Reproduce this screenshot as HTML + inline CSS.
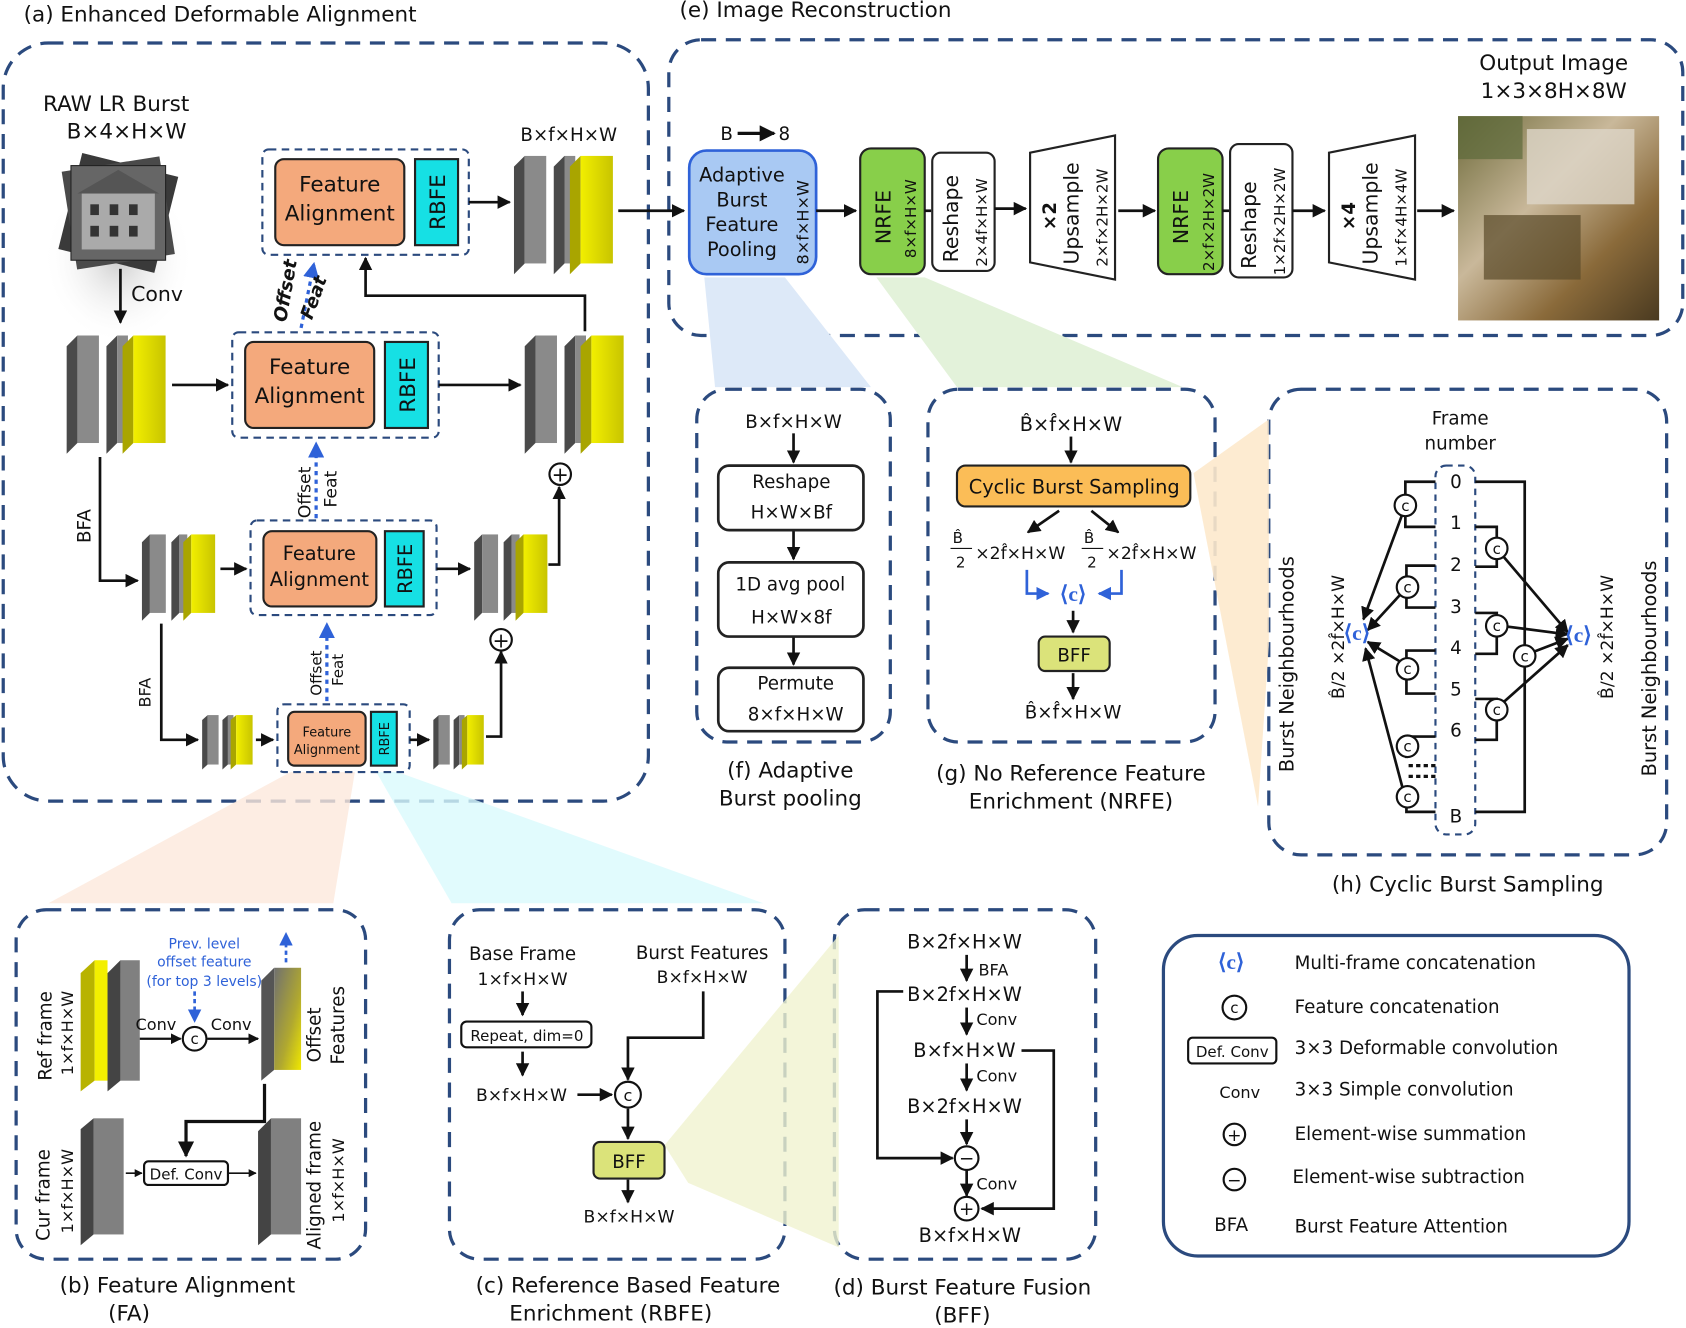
<!DOCTYPE html>
<html><head><meta charset="utf-8"><style>
html,body{margin:0;padding:0;background:#fff}
svg{display:block}
text{font-family:"DejaVu Sans","Liberation Sans",sans-serif;fill:#111}
</style></head><body>
<svg width="1686" height="1328" viewBox="0 0 1568 1235" preserveAspectRatio="none" xmlns="http://www.w3.org/2000/svg">
<defs>
<marker id="ar" viewBox="0 0 10 10" refX="9" refY="5" markerWidth="5" markerHeight="5" orient="auto"><path d="M0,0 L10,5 L0,10 z" fill="#111"/></marker>
<marker id="ab" viewBox="0 0 10 10" refX="9" refY="5" markerWidth="5" markerHeight="5" orient="auto"><path d="M0,0 L10,5 L0,10 z" fill="#2f62d8"/></marker>
<linearGradient id="yg" x1="0" x2="1"><stop offset="0" stop-color="#f2ef00"/><stop offset="1" stop-color="#c8c400"/></linearGradient>
<linearGradient id="og" x1="0" y1="0" x2="1" y2="1"><stop offset="0" stop-color="#707070"/><stop offset="0.6" stop-color="#b0a830"/><stop offset="1" stop-color="#f0e800"/></linearGradient>
<linearGradient id="photo" x1="0" y1="0" x2="1" y2="1"><stop offset="0" stop-color="#6d6a3a"/><stop offset="0.4" stop-color="#c9b89a"/><stop offset="0.7" stop-color="#8a6a3a"/><stop offset="1" stop-color="#4a3a20"/></linearGradient>
<radialGradient id="fog"><stop offset="0" stop-color="#ccc"/><stop offset="1" stop-color="#fff" stop-opacity="0"/></radialGradient>
<g id="stack">
 <polygon points="0,10 10,0 10,100 0,110" fill="#4a4a4a"/><rect x="10" y="0" width="20" height="100" fill="#8a8a8a"/>
 <polygon points="37,10 47,0 47,100 37,110" fill="#4a4a4a"/><rect x="47" y="0" width="10" height="100" fill="#8a8a8a"/>
 <polygon points="52,10 62,0 62,100 52,110" fill="#a9a500"/><rect x="62" y="0" width="30" height="100" fill="url(#yg)"/>
</g>
</defs>

<text x="22" y="20" font-size="20">(a) Enhanced Deformable Alignment</text>
<text x="632" y="16" font-size="20">(e) Image Reconstruction</text>

<g fill="none" stroke="#2b4a7e" stroke-width="3" stroke-dasharray="14,9">
<rect x="3" y="40" width="600" height="705" rx="42"/>
<rect x="622" y="37" width="943" height="275" rx="30"/>
<rect x="648" y="362" width="180" height="328" rx="28"/>
<rect x="863" y="362" width="267" height="328" rx="28"/>
<rect x="1180" y="362" width="370" height="433" rx="30"/>
<rect x="15" y="846" width="325" height="325" rx="28"/>
<rect x="418" y="846" width="312" height="325" rx="28"/>
<rect x="776" y="846" width="243" height="325" rx="28"/>
</g>
<rect x="1082" y="870" width="433" height="298" rx="32" fill="none" stroke="#2b4a7e" stroke-width="3"/>

<polygon points="270,718 330,718 310,840 45,840" fill="#fde8dc" opacity="0.8"/>
<polygon points="350,718 370,718 710,840 420,840" fill="#dafafd" opacity="0.8"/>
<polygon points="780,870 618,1065 640,1100 780,1160" fill="#f0f3d0" opacity="0.8"/>
<polygon points="655,258 730,258 810,360 665,360" fill="#dde9f8"/>
<polygon points="815,258 860,258 1100,360 890,360" fill="#e3f2da"/>
<polygon points="1110,440 1180,390 1180,600 1170,750" fill="#fde9cc" opacity="0.9"/>

<!-- Panel (a) -->
<text x="40" y="103" font-size="20">RAW LR Burst</text>
<text x="62" y="129" font-size="20">B×4×H×W</text>
<ellipse cx="110" cy="240" rx="70" ry="80" fill="url(#fog)"/>
<g transform="translate(110,198)">
<rect x="-46" y="-46" width="92" height="92" fill="#3a3a3a" transform="rotate(14)"/>
<rect x="-46" y="-46" width="92" height="92" fill="#4a4a4a" transform="rotate(-9)"/>
<rect x="-44" y="-44" width="88" height="88" fill="#666" stroke="#222"/>
<rect x="-34" y="-18" width="68" height="52" fill="#aaa"/>
<polygon points="-38,-18 0,-40 38,-18" fill="#555"/>
<rect x="-26" y="-8" width="8" height="10" fill="#333"/><rect x="-8" y="-8" width="8" height="10" fill="#333"/><rect x="10" y="-8" width="8" height="10" fill="#333"/>
<rect x="-26" y="12" width="8" height="10" fill="#333"/><rect x="-8" y="12" width="8" height="10" fill="#333"/><rect x="10" y="12" width="8" height="10" fill="#333"/>
</g>
<line x1="112" y1="250" x2="112" y2="300" stroke="#111" stroke-width="2.5" marker-end="url(#ar)"/>
<text x="122" y="280" font-size="19">Conv</text>

<use href="#stack" transform="translate(478,145)"/>
<use href="#stack" transform="translate(62,312)"/>
<use href="#stack" transform="translate(488,312)"/>
<use href="#stack" transform="translate(132,497) scale(0.74,0.73)"/>
<use href="#stack" transform="translate(441,497) scale(0.74,0.73)"/>
<use href="#stack" transform="translate(188,665) scale(0.51,0.46)"/>
<use href="#stack" transform="translate(403,665) scale(0.51,0.46)"/>
<text x="484" y="131" font-size="17">B×f×H×W</text>

<g fill="none" stroke="#2b4a7e" stroke-width="2" stroke-dasharray="7,5">
<rect x="244" y="139" width="192" height="98" rx="6"/>
<rect x="216" y="309" width="192" height="98" rx="6"/>
<rect x="233" y="484" width="173" height="88" rx="6"/>
<rect x="258" y="655" width="123" height="63" rx="6"/>
</g>
<g stroke="#222" stroke-width="2">
<rect x="256" y="148" width="120" height="80" rx="8" fill="#f4a97c"/>
<rect x="386" y="148" width="40" height="80" fill="#16e0e4"/>
<rect x="228" y="318" width="120" height="80" rx="8" fill="#f4a97c"/>
<rect x="358" y="318" width="40" height="80" fill="#16e0e4"/>
<rect x="245" y="494" width="105" height="70" rx="8" fill="#f4a97c"/>
<rect x="358" y="494" width="36" height="70" fill="#16e0e4"/>
<rect x="268" y="662" width="72" height="50" rx="6" fill="#f4a97c"/>
<rect x="345" y="662" width="24" height="50" fill="#16e0e4"/>
</g>
<g font-size="20" text-anchor="middle">
<text x="316" y="178">Feature</text><text x="316" y="205">Alignment</text>
<text x="288" y="348">Feature</text><text x="288" y="375">Alignment</text>
<text x="297" y="521" font-size="18">Feature</text><text x="297" y="545" font-size="18">Alignment</text>
<text x="304" y="685" font-size="12">Feature</text><text x="304" y="701" font-size="12">Alignment</text>
</g>
<text transform="translate(414,188) rotate(-90)" font-size="20" text-anchor="middle">RBFE</text>
<text transform="translate(386,358) rotate(-90)" font-size="20" text-anchor="middle">RBFE</text>
<text transform="translate(383,529) rotate(-90)" font-size="18" text-anchor="middle">RBFE</text>
<text transform="translate(362,687) rotate(-90)" font-size="12" text-anchor="middle">RBFE</text>

<g stroke="#111" stroke-width="2.5" fill="none">
<line x1="436" y1="188" x2="474" y2="188" marker-end="url(#ar)"/>
<line x1="160" y1="358" x2="212" y2="358" marker-end="url(#ar)"/>
<line x1="408" y1="358" x2="484" y2="358" marker-end="url(#ar)"/>
<polyline points="544,308 544,275 340,275 340,240" marker-end="url(#ar)"/>
<line x1="205" y1="529" x2="229" y2="529" marker-end="url(#ar)"/>
<line x1="406" y1="529" x2="437" y2="529" marker-end="url(#ar)"/>
<polyline points="510,525 520,525 520,453" marker-end="url(#ar)"/>
<polyline points="93,425 93,540 128,540" marker-end="url(#ar)"/>
<polyline points="150,580 150,688 184,688" marker-end="url(#ar)"/>
<line x1="238" y1="688" x2="254" y2="688" marker-end="url(#ar)"/>
<line x1="381" y1="688" x2="399" y2="688" marker-end="url(#ar)"/>
<polyline points="452,685 466,685 466,606" marker-end="url(#ar)"/>
<line x1="575" y1="196" x2="636" y2="196" marker-end="url(#ar)"/>
</g>
<g fill="#fff" stroke="#111" stroke-width="2"><circle cx="521" cy="441" r="10"/><circle cx="466" cy="595" r="10"/></g>
<g font-size="19" text-anchor="middle"><text x="521" y="448">+</text><text x="466" y="602">+</text></g>
<text transform="translate(84,505) rotate(-90)" font-size="17">BFA</text>
<text transform="translate(140,658) rotate(-90)" font-size="15">BFA</text>
<g stroke="#2f62d8" stroke-width="3" stroke-dasharray="4,4" fill="none">
<line x1="280" y1="305" x2="292" y2="245" marker-end="url(#ab)"/>
<line x1="294" y1="482" x2="294" y2="412" marker-end="url(#ab)"/>
<line x1="304" y1="652" x2="304" y2="580" marker-end="url(#ab)"/>
</g>
<text transform="translate(266,300) rotate(-80)" font-size="17" font-weight="bold" font-style="italic">Offset</text>
<text transform="translate(290,298) rotate(-70)" font-size="17" font-weight="bold" font-style="italic">Feat</text>
<text transform="translate(289,482) rotate(-90)" font-size="16">Offset</text>
<text transform="translate(313,472) rotate(-90)" font-size="16">Feat</text>
<text transform="translate(299,647) rotate(-90)" font-size="14">Offset</text>
<text transform="translate(319,638) rotate(-90)" font-size="14">Feat</text>

<!-- Panel (e) -->
<text x="670" y="130" font-size="17">B</text>
<line x1="686" y1="124" x2="720" y2="124" stroke="#111" stroke-width="3" marker-end="url(#ar)"/>
<text x="724" y="130" font-size="17">8</text>
<rect x="641" y="140" width="118" height="115" rx="16" fill="#a9c9f3" stroke="#2f62d8" stroke-width="2.5"/>
<g font-size="18" text-anchor="middle"><text x="690" y="169">Adaptive</text><text x="690" y="192">Burst</text><text x="690" y="215">Feature</text><text x="690" y="238">Pooling</text></g>
<text transform="translate(752,246) rotate(-90)" font-size="15">8×f×H×W</text>
<line x1="759" y1="196" x2="796" y2="196" stroke="#111" stroke-width="2.5" marker-end="url(#ar)"/>
<rect x="800" y="138" width="60" height="117" rx="10" fill="#88cf4a" stroke="#222" stroke-width="2"/>
<text transform="translate(828,227) rotate(-90)" font-size="19">NRFE</text>
<text transform="translate(852,240) rotate(-90)" font-size="14">8×f×H×W</text>
<line x1="860" y1="196" x2="866" y2="196" stroke="#111" stroke-width="2.5"/>
<rect x="867" y="142" width="58" height="110" rx="8" fill="#fff" stroke="#222" stroke-width="2"/>
<text transform="translate(891,244) rotate(-90)" font-size="19">Reshape</text>
<text transform="translate(918,248) rotate(-90)" font-size="14">2×4f×H×W</text>
<line x1="925" y1="194" x2="954" y2="194" stroke="#111" stroke-width="2.5" marker-end="url(#ar)"/>
<polygon points="958,142 1037,126 1037,260 958,244" fill="#fff" stroke="#222" stroke-width="2"/>
<text transform="translate(982,214) rotate(-90)" font-size="17" font-weight="bold">×2</text>
<text transform="translate(1003,246) rotate(-90)" font-size="19">Upsample</text>
<text transform="translate(1030,248) rotate(-90)" font-size="14">2×f×2H×2W</text>
<line x1="1040" y1="196" x2="1074" y2="196" stroke="#111" stroke-width="2.5" marker-end="url(#ar)"/>
<rect x="1077" y="138" width="60" height="117" rx="10" fill="#88cf4a" stroke="#222" stroke-width="2"/>
<text transform="translate(1105,227) rotate(-90)" font-size="19">NRFE</text>
<text transform="translate(1129,252) rotate(-90)" font-size="14">2×f×2H×2W</text>
<line x1="1137" y1="196" x2="1143" y2="196" stroke="#111" stroke-width="2.5"/>
<rect x="1144" y="134" width="58" height="124" rx="8" fill="#fff" stroke="#222" stroke-width="2"/>
<text transform="translate(1168,250) rotate(-90)" font-size="19">Reshape</text>
<text transform="translate(1195,256) rotate(-90)" font-size="14">1×2f×2H×2W</text>
<line x1="1202" y1="196" x2="1232" y2="196" stroke="#111" stroke-width="2.5" marker-end="url(#ar)"/>
<polygon points="1236,142 1316,126 1316,260 1236,244" fill="#fff" stroke="#222" stroke-width="2"/>
<text transform="translate(1260,214) rotate(-90)" font-size="17" font-weight="bold">×4</text>
<text transform="translate(1281,246) rotate(-90)" font-size="19">Upsample</text>
<text transform="translate(1308,248) rotate(-90)" font-size="14">1×f×4H×4W</text>
<line x1="1318" y1="196" x2="1352" y2="196" stroke="#111" stroke-width="2.5" marker-end="url(#ar)"/>
<text x="1445" y="65" font-size="20" text-anchor="middle">Output Image</text>
<text x="1445" y="91" font-size="20" text-anchor="middle">1×3×8H×8W</text>
<rect x="1356" y="108" width="187" height="190" fill="url(#photo)"/>
<rect x="1420" y="120" width="100" height="70" fill="#ddd6c8" opacity="0.8"/>
<rect x="1380" y="200" width="90" height="60" fill="#5a4a2a" opacity="0.7"/>
<rect x="1356" y="108" width="60" height="40" fill="#5c6a3a" opacity="0.7"/>

<!-- (f) -->
<text x="738" y="398" font-size="17" text-anchor="middle">B×f×H×W</text>
<g stroke="#111" stroke-width="2.5" fill="none">
<line x1="738" y1="403" x2="738" y2="430" marker-end="url(#ar)"/>
<line x1="738" y1="493" x2="738" y2="520" marker-end="url(#ar)"/>
<line x1="738" y1="592" x2="738" y2="618" marker-end="url(#ar)"/>
</g>
<g fill="#fff" stroke="#222" stroke-width="2.5">
<rect x="668" y="433" width="135" height="60" rx="10"/>
<rect x="668" y="523" width="135" height="69" rx="10"/>
<rect x="668" y="621" width="135" height="59" rx="10"/>
</g>
<g font-size="17" text-anchor="middle">
<text x="736" y="454">Reshape</text><text x="736" y="482">H×W×Bf</text>
<text x="735" y="549">1D avg pool</text><text x="736" y="580">H×W×8f</text>
<text x="740" y="641">Permute</text><text x="740" y="670">8×f×H×W</text>
</g>
<text x="735" y="723" font-size="20" text-anchor="middle">(f) Adaptive</text>
<text x="735" y="749" font-size="20" text-anchor="middle">Burst pooling</text>

<!-- (g) -->
<text x="996" y="401" font-size="18" text-anchor="middle">B̂×f̂×H×W</text>
<line x1="996" y1="406" x2="996" y2="430" stroke="#111" stroke-width="2.5" marker-end="url(#ar)"/>
<rect x="890" y="433" width="217" height="38" rx="8" fill="#fbbd57" stroke="#222" stroke-width="2"/>
<text x="999" y="459" font-size="18" text-anchor="middle">Cyclic Burst Sampling</text>
<g stroke="#111" stroke-width="2.5"><line x1="985" y1="475" x2="956" y2="495" marker-end="url(#ar)"/><line x1="1015" y1="475" x2="1040" y2="495" marker-end="url(#ar)"/></g>
<text x="886" y="505" font-size="14">B̂</text><line x1="884" y1="510" x2="904" y2="510" stroke="#111"/><text x="889" y="528" font-size="14">2</text>
<text x="907" y="520" font-size="16">×2f̂×H×W</text>
<text x="1008" y="505" font-size="14">B̂</text><line x1="1006" y1="510" x2="1026" y2="510" stroke="#111"/><text x="1011" y="528" font-size="14">2</text>
<text x="1029" y="520" font-size="16">×2f̂×H×W</text>
<g stroke="#2f62d8" stroke-width="2.5" fill="none">
<polyline points="955,530 955,552 975,552" marker-end="url(#ab)"/>
<polyline points="1043,530 1043,552 1022,552" marker-end="url(#ab)"/>
</g>
<text x="998" y="559" font-size="20" text-anchor="middle" style="fill:#2f62d8;font-family:'Liberation Serif',serif;font-weight:bold">⟨c⟩</text>
<line x1="998" y1="568" x2="998" y2="588" stroke="#111" stroke-width="2.5" marker-end="url(#ar)"/>
<rect x="966" y="592" width="66" height="32" rx="6" fill="#dbe37a" stroke="#222" stroke-width="2"/>
<text x="999" y="615" font-size="17" text-anchor="middle">BFF</text>
<line x1="998" y1="626" x2="998" y2="650" stroke="#111" stroke-width="2.5" marker-end="url(#ar)"/>
<text x="998" y="668" font-size="17" text-anchor="middle">B̂×f̂×H×W</text>
<text x="996" y="726" font-size="20" text-anchor="middle">(g) No Reference Feature</text>
<text x="996" y="752" font-size="20" text-anchor="middle">Enrichment (NRFE)</text>

<!-- (h) -->
<text x="1358" y="395" font-size="17" text-anchor="middle">Frame</text>
<text x="1358" y="418" font-size="17" text-anchor="middle">number</text>
<rect x="1335" y="433" width="37" height="343" rx="10" fill="none" stroke="#2b4a7e" stroke-width="2" stroke-dasharray="6,5"/>
<g font-size="17" text-anchor="middle">
<text x="1354" y="454">0</text><text x="1354" y="492">1</text><text x="1354" y="531">2</text><text x="1354" y="570">3</text><text x="1354" y="608">4</text><text x="1354" y="647">5</text><text x="1354" y="685">6</text><text x="1354" y="765">B</text>
</g>
<g stroke="#111" stroke-width="2.5" fill="none">
<polyline points="1335,448 1307,448 1307,490 1335,490"/>
<polyline points="1335,526 1308,526 1308,565 1335,565"/>
<polyline points="1335,605 1308,605 1308,645 1335,645"/>
<polyline points="1335,685 1308,685 1308,705"/>
<polyline points="1372,448 1418,448 1418,755 1372,755"/>
<polyline points="1372,490 1392,490 1392,527 1372,527"/>
<polyline points="1372,570 1392,570 1392,608 1372,608"/>
<polyline points="1372,650 1392,650 1392,688 1372,688"/>
<polyline points="1308,740 1308,755 1335,755"/>
<line x1="1305" y1="476" x2="1268" y2="576" marker-end="url(#ar)"/>
<line x1="1305" y1="550" x2="1272" y2="586" marker-end="url(#ar)"/>
<line x1="1305" y1="617" x2="1272" y2="597" marker-end="url(#ar)"/>
<line x1="1305" y1="735" x2="1270" y2="603" marker-end="url(#ar)"/>
<line x1="1396" y1="515" x2="1458" y2="588" marker-end="url(#ar)"/>
<line x1="1396" y1="582" x2="1458" y2="590" marker-end="url(#ar)"/>
<line x1="1424" y1="607" x2="1458" y2="594" marker-end="url(#ar)"/>
<line x1="1396" y1="655" x2="1458" y2="600" marker-end="url(#ar)"/>
</g>
<g stroke="#111" stroke-width="3" stroke-dasharray="4,3"><line x1="1310" y1="712" x2="1335" y2="712"/><line x1="1310" y1="722" x2="1335" y2="722"/></g>
<g fill="#fff" stroke="#111" stroke-width="2">
<circle cx="1307" cy="470" r="10"/><circle cx="1309" cy="546" r="10"/><circle cx="1309" cy="622" r="10"/><circle cx="1309" cy="694" r="10"/><circle cx="1309" cy="741" r="10"/>
<circle cx="1392" cy="510" r="10"/><circle cx="1392" cy="582" r="10"/><circle cx="1418" cy="610" r="10"/><circle cx="1392" cy="660" r="10"/>
</g>
<g font-size="14" text-anchor="middle">
<text x="1307" y="475">c</text><text x="1309" y="551">c</text><text x="1309" y="627">c</text><text x="1309" y="699">c</text><text x="1309" y="746">c</text>
<text x="1392" y="515">c</text><text x="1392" y="587">c</text><text x="1418" y="615">c</text><text x="1392" y="665">c</text>
</g>
<text x="1262" y="595" font-size="20" text-anchor="middle" style="fill:#2f62d8;font-family:'Liberation Serif',serif;font-weight:bold">⟨c⟩</text>
<text x="1468" y="597" font-size="20" text-anchor="middle" style="fill:#2f62d8;font-family:'Liberation Serif',serif;font-weight:bold">⟨c⟩</text>
<text transform="translate(1203,718) rotate(-90)" font-size="18">Burst Neighbourhoods</text>
<text transform="translate(1250,650) rotate(-90)" font-size="16">B̂/2 ×2f̂×H×W</text>
<text transform="translate(1500,650) rotate(-90)" font-size="16">B̂/2 ×2f̂×H×W</text>
<text transform="translate(1540,722) rotate(-90)" font-size="18">Burst Neighbourhoods</text>
<text x="1365" y="829" font-size="20" text-anchor="middle">(h) Cyclic Burst Sampling</text>

<!-- (b) -->
<polygon points="75,905 88,893 88,1005 75,1015" fill="#b8b300"/><rect x="88" y="893" width="12" height="112" fill="#f3ef00"/>
<polygon points="100,905 112,893 112,1005 100,1015" fill="#444"/><rect x="112" y="893" width="18" height="112" fill="#808080"/>
<polygon points="243,912 255,900 255,995 243,1005" fill="#555"/><rect x="255" y="900" width="25" height="95" fill="url(#og)"/>
<polygon points="75,1050 87,1040 87,1148 75,1158" fill="#444"/><rect x="87" y="1040" width="28" height="108" fill="#808080"/>
<polygon points="240,1052 252,1040 252,1148 240,1158" fill="#444"/><rect x="252" y="1040" width="28" height="108" fill="#808080"/>
<text transform="translate(48,1005) rotate(-90)" font-size="17">Ref frame</text>
<text transform="translate(68,1000) rotate(-90)" font-size="15">1×f×H×W</text>
<text transform="translate(46,1154) rotate(-90)" font-size="17">Cur frame</text>
<text transform="translate(68,1147) rotate(-90)" font-size="15">1×f×H×W</text>
<text transform="translate(298,988) rotate(-90)" font-size="17">Offset</text>
<text transform="translate(320,990) rotate(-90)" font-size="17">Features</text>
<text transform="translate(298,1162) rotate(-90)" font-size="17">Aligned frame</text>
<text transform="translate(320,1137) rotate(-90)" font-size="15">1×f×H×W</text>
<text x="190" y="882" font-size="13" text-anchor="middle" style="fill:#2f62d8">Prev. level</text>
<text x="190" y="899" font-size="13" text-anchor="middle" style="fill:#2f62d8">offset feature</text>
<text x="190" y="917" font-size="13" text-anchor="middle" style="fill:#2f62d8">(for top 3 levels)</text>
<g stroke="#2f62d8" stroke-width="2.5" stroke-dasharray="4,3" fill="none">
<line x1="181" y1="922" x2="181" y2="950" marker-end="url(#ab)"/>
<line x1="266" y1="895" x2="266" y2="868" marker-end="url(#ab)"/>
</g>
<g stroke="#111" stroke-width="2" fill="none">
<line x1="130" y1="966" x2="168" y2="966" marker-end="url(#ar)"/>
<line x1="193" y1="966" x2="240" y2="966" marker-end="url(#ar)"/>
<polyline points="246,1008 246,1043 173,1043 173,1075" stroke-width="3" marker-end="url(#ar)"/>
<line x1="117" y1="1091" x2="132" y2="1091" stroke-width="1.5" marker-end="url(#ar)"/>
<line x1="212" y1="1091" x2="238" y2="1091" stroke-width="1.5" marker-end="url(#ar)"/>
</g>
<circle cx="181" cy="966" r="11" fill="#fff" stroke="#111" stroke-width="2"/>
<text x="181" y="971" font-size="14" text-anchor="middle">c</text>
<text x="126" y="958" font-size="15">Conv</text><text x="196" y="958" font-size="15">Conv</text>
<rect x="134" y="1080" width="78" height="22" rx="4" fill="#fff" stroke="#111" stroke-width="2"/>
<text x="173" y="1097" font-size="14" text-anchor="middle">Def. Conv</text>
<text x="165" y="1202" font-size="20" text-anchor="middle">(b) Feature Alignment</text>
<text x="120" y="1228" font-size="20" text-anchor="middle">(FA)</text>

<!-- (c) -->
<text x="486" y="893" font-size="17" text-anchor="middle">Base Frame</text>
<text x="486" y="916" font-size="16" text-anchor="middle">1×f×H×W</text>
<text x="653" y="892" font-size="17" text-anchor="middle">Burst Features</text>
<text x="653" y="914" font-size="16" text-anchor="middle">B×f×H×W</text>
<rect x="429" y="950" width="121" height="24" rx="5" fill="#fff" stroke="#111" stroke-width="2"/>
<text x="490" y="968" font-size="14" text-anchor="middle">Repeat, dim=0</text>
<text x="485" y="1024" font-size="16" text-anchor="middle">B×f×H×W</text>
<g stroke="#111" stroke-width="2.5" fill="none">
<line x1="486" y1="922" x2="486" y2="944" marker-end="url(#ar)"/>
<line x1="486" y1="978" x2="486" y2="1000" marker-end="url(#ar)"/>
<line x1="537" y1="1018" x2="569" y2="1018" marker-end="url(#ar)"/>
<polyline points="654,922 654,965 584,965 584,1004" marker-end="url(#ar)"/>
<line x1="584" y1="1031" x2="584" y2="1059" marker-end="url(#ar)"/>
<line x1="584" y1="1097" x2="584" y2="1118" marker-end="url(#ar)"/>
</g>
<circle cx="584" cy="1018" r="12" fill="#fff" stroke="#111" stroke-width="2"/>
<text x="584" y="1024" font-size="15" text-anchor="middle">c</text>
<rect x="552" y="1062" width="66" height="34" rx="6" fill="#dbe37a" stroke="#222" stroke-width="2"/>
<text x="585" y="1086" font-size="17" text-anchor="middle">BFF</text>
<text x="585" y="1137" font-size="16" text-anchor="middle">B×f×H×W</text>
<text x="584" y="1202" font-size="20" text-anchor="middle">(c) Reference Based Feature</text>
<text x="568" y="1228" font-size="20" text-anchor="middle">Enrichment (RBFE)</text>

<!-- (d) -->
<g font-size="18" text-anchor="middle">
<text x="897" y="882">B×2f×H×W</text>
<text x="897" y="931">B×2f×H×W</text>
<text x="897" y="983">B×f×H×W</text>
<text x="897" y="1035">B×2f×H×W</text>
<text x="902" y="1155">B×f×H×W</text>
</g>
<g font-size="15"><text x="910" y="907">BFA</text><text x="908" y="953">Conv</text><text x="908" y="1006">Conv</text><text x="908" y="1106">Conv</text></g>
<g stroke="#111" stroke-width="2.5" fill="none">
<line x1="899" y1="888" x2="899" y2="912" marker-end="url(#ar)"/>
<line x1="899" y1="937" x2="899" y2="962" marker-end="url(#ar)"/>
<line x1="899" y1="989" x2="899" y2="1014" marker-end="url(#ar)"/>
<line x1="899" y1="1041" x2="899" y2="1064" marker-end="url(#ar)"/>
<line x1="899" y1="1088" x2="899" y2="1112" marker-end="url(#ar)"/>
<polyline points="840,922 816,922 816,1077 886,1077" marker-end="url(#ar)"/>
<polyline points="950,977 980,977 980,1124 913,1124" marker-end="url(#ar)"/>
</g>
<g fill="#fff" stroke="#111" stroke-width="2"><circle cx="899" cy="1077" r="11"/><circle cx="899" cy="1124" r="11"/></g>
<text x="899" y="1083" font-size="17" text-anchor="middle">−</text>
<text x="899" y="1130" font-size="17" text-anchor="middle">+</text>
<text x="895" y="1204" font-size="20" text-anchor="middle">(d) Burst Feature Fusion</text>
<text x="895" y="1230" font-size="20" text-anchor="middle">(BFF)</text>

<!-- legend -->
<text x="1145" y="901" font-size="20" text-anchor="middle" style="fill:#2f62d8;font-family:'Liberation Serif',serif;font-weight:bold">⟨c⟩</text>
<circle cx="1148" cy="937" r="11" fill="#fff" stroke="#111" stroke-width="2"/><text x="1148" y="942" font-size="14" text-anchor="middle">c</text>
<rect x="1105" y="965" width="82" height="24" rx="4" fill="#fff" stroke="#111" stroke-width="2"/>
<text x="1146" y="983" font-size="14" text-anchor="middle">Def. Conv</text>
<text x="1153" y="1021" font-size="15" text-anchor="middle">Conv</text>
<circle cx="1148" cy="1055" r="10" fill="#fff" stroke="#111" stroke-width="2"/><text x="1148" y="1061" font-size="16" text-anchor="middle">+</text>
<circle cx="1148" cy="1097" r="10" fill="#fff" stroke="#111" stroke-width="2"/><text x="1148" y="1103" font-size="16" text-anchor="middle">−</text>
<text x="1145" y="1145" font-size="17" text-anchor="middle">BFA</text>
<g font-size="17">
<text x="1204" y="901">Multi-frame concatenation</text>
<text x="1204" y="942">Feature concatenation</text>
<text x="1204" y="980">3×3 Deformable convolution</text>
<text x="1204" y="1019">3×3 Simple convolution</text>
<text x="1204" y="1060">Element-wise summation</text>
<text x="1202" y="1100">Element-wise subtraction</text>
<text x="1204" y="1146">Burst Feature Attention</text>
</g>
</svg>
</body></html>
